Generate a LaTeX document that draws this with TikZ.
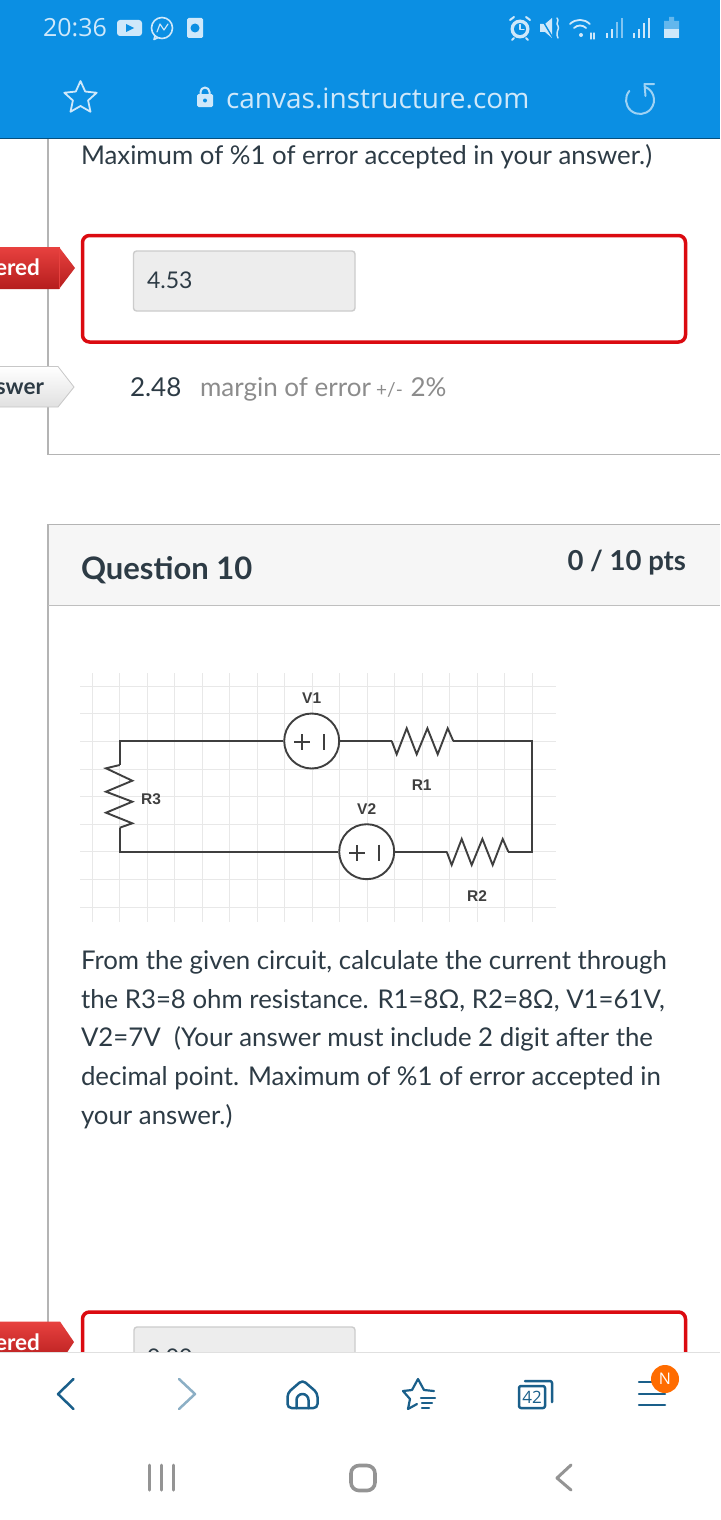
\documentclass[tikz,border=0pt]{standalone}
\usepackage{fontspec}
\setmainfont{Lato}
\newfontfamily\uifont{Open Sans}
\newfontfamily\cktfont{Liberation Sans}
\definecolor{barblue}{HTML}{0B8FE3}
\definecolor{barlight}{HTML}{CFE8FA}
\definecolor{ink}{HTML}{2D3B45}
\definecolor{rule}{HTML}{B4B4B4}
\definecolor{wrongred}{HTML}{DB0A10}
\definecolor{navblue}{HTML}{1A5F8A}
\definecolor{navgrey}{HTML}{949494}
\definecolor{wire}{HTML}{3F3F3F}
\definecolor{gridc}{HTML}{E8E8E8}
\definecolor{tagtop}{HTML}{E8413F}
\definecolor{tagbot}{HTML}{B51D1D}
\newcommand{\pxfont}[1]{\fontsize{#1}{#1}\selectfont}
\tikzset{
 txt/.style={inner sep=0pt,outer sep=0pt,text=ink},
 body/.style={txt,anchor=base west,font=\pxfont{25.8}},
 ckt/.style={txt,text=wire,font=\cktfont\bfseries\pxfont{15.5}},
 wirepath/.style={draw=wire,line width=1.9pt,line join=miter},
 source/.style={circle,draw=wire,line width=1.9pt,minimum size=55pt,inner sep=0pt,fill=white},
 symb/.style={draw=wire,line width=1.7pt},
 cardline/.style={draw=rule,line width=1.6pt},
 redbox/.style={draw=wrongred,line width=3.5pt,rounded corners=7pt},
 inputbox/.style={draw=black!20,fill=black!7,line width=1.4pt,rounded corners=3pt},
 navicon/.style={draw=navblue,line width=2.5pt,line join=round,line cap=round},
 sysicon/.style={draw=navgrey,line width=3pt,line join=round,line cap=round},
 baricon/.style={draw=barlight,line width=1.5pt,line join=round,line cap=round},
}
\begin{document}
\begin{tikzpicture}[x=1pt,y=-1pt]
\useasboundingbox (0,0) rectangle (720,1520);
\clip (0,0) rectangle (720,1520);
\fill[white] (0,0) rectangle (720,1520);
% ---------- upper card
\draw[cardline] (48,130) -- (48,454.5) -- (720,454.5);
\node[body] (maxa) at (81,164) {Maximum of \%1 of error accepted in your answer.)};
\draw[redbox] (82.5,235.5) rectangle (685.5,342);
\draw[inputbox] (133.5,251) rectangle (355,311);
\node[txt,anchor=base west,font=\pxfont{23}] (v453) at (147,288) {4.53};
\path[top color=tagtop,bottom color=tagbot] (-5,247) -- (59,247) -- (75,268) -- (59,289) -- (-5,289) -- cycle;
\draw[tagtop,line width=.6pt] (59,247) -- (59,289);
\node[txt,text=white,anchor=base east,font=\bfseries\pxfont{22.5}] (tag1) at (40,275) {ered};
\path[top color=white,bottom color=black!12,draw=black!22,line width=.8pt] (-5,366.5) -- (58,366.5) -- (74,387) -- (58,407) -- (-5,407) -- cycle;
\node[txt,anchor=base east,font=\bfseries\pxfont{22.5}] (tag2) at (44,394) {swer};
\node[txt,anchor=base west,font=\pxfont{26}] (v248) at (130,396) {2.48};
\node[txt,text=black!45,anchor=base west,font=\pxfont{26}] (moe) at (200,396) {margin of error};
\node[txt,text=black!45,anchor=base,font=\pxfont{19}] (pm) at (389.5,396) {+/-};
\node[txt,text=black!45,anchor=base west,font=\pxfont{26}] (pct) at (410.5,396) {2\%};
% ---------- question card
\path[fill=black!3.5] (48,524.5) rectangle (720,605.5);
\draw[cardline] (720,524.5) -- (48,524.5) -- (48,1360);
\draw[draw=black!25,line width=1pt] (48,605.5) -- (720,605.5);
\node[txt,anchor=base west,font=\bfseries\pxfont{31}] (q10) at (81,579) {Question 10};
\node[txt,anchor=base east,font=\bfseries\pxfont{27.5}] (pts) at (686,570) {0 / 10 pts};
% ---------- circuit grid
\foreach \i in {0,...,16} \draw[gridc,line width=.9pt] ({92+27.5*\i},673) -- ({92+27.5*\i},922);
\foreach \j in {0,...,8} \draw[gridc,line width=.9pt] (80,{686+27.65*\j}) -- (556,{686+27.65*\j});
% ---------- circuit
\coordinate (tl) at (119.7,741);
\coordinate (tr) at (532,741);
\coordinate (bl) at (119.7,851.7);
\coordinate (br) at (532,851.7);
\node[source] (V1) at (311.7,741) {};
\node[source] (V2) at (366.7,851.7) {};
\coordinate (R1a) at (391.7,741);
\coordinate (R1b) at (453.3,741);
\coordinate (R2a) at (446.7,851.7);
\coordinate (R2b) at (508.3,851.7);
\coordinate (R3a) at (119.7,765);
\coordinate (R3b) at (119.7,827.7);
\draw[wirepath] (R3a) -- (tl) -- (V1.west);
\draw[wirepath] (V1.east) -- (R1a);
\draw[wirepath] (R1b) -- (tr) -- (br) -- (R2b);
\draw[wirepath] (R2a) -- (V2.east);
\draw[wirepath] (V2.west) -- (bl) -- (R3b);
\draw[wirepath] (R1a) -- ++(5,13.3) -- ++(10,-26) -- ++(10,26) -- ++(10.7,-26) -- ++(10.3,26) -- ++(10,-26) -- (R1b);
\draw[wirepath] (R2a) -- ++(5,13.3) -- ++(10,-26) -- ++(10,26) -- ++(10.7,-26) -- ++(10.3,26) -- ++(10,-26) -- (R2b);
\draw[wirepath] (R3a) -- (106,768.3) -- (132.3,780.7) -- (106,791.7) -- (132.3,801.7) -- (106,812.7) -- (132.3,823.3) -- (R3b);
\draw[symb] (294.3,742.3) -- (310.3,742.3) (302.3,734.3) -- (302.3,750.3) (324.3,734) -- (324.3,750);
\draw[symb] (349.3,853) -- (365.3,853) (357.3,845) -- (357.3,861) (379.3,844.7) -- (379.3,860.7);
\node[ckt] (lv1) at (311.7,698) {V1};
\node[ckt] (lr1) at (421.7,785.5) {R1};
\node[ckt] (lv2) at (366.7,809) {V2};
\node[ckt] (lr2) at (477,896) {R2};
\node[ckt] (lr3) at (151,799) {R3};
% ---------- paragraph
\node[body] (p1) at (81,969) {From the given circuit, calculate the current through};
\node[body] (p2) at (81,1008) {the R3=8 ohm resistance. R1=8Ω, R2=8Ω, V1=61V,};
\node[body] (p3) at (81,1046) {V2=7V\ \ (Your answer must include 2 digit after the};
\node[body] (p4) at (81,1085) {decimal point. Maximum of \%1 of error accepted in};
\node[body] (p5) at (81,1124) {your answer.)};
% ---------- lower answer
\draw[redbox] (82.5,1312) -- (685.5,1312) -- (685.5,1400) -- (82.5,1400) -- cycle;
\draw[inputbox] (134,1327) rectangle (355,1380);
\node[txt,anchor=base west,font=\pxfont{23}] (v000) at (147,1365) {0.00};
\path[top color=tagtop,bottom color=tagbot] (-5,1321.5) -- (60,1321.5) -- (74,1342) -- (60,1363) -- (-5,1363) -- cycle;
\node[txt,text=white,anchor=base east,font=\bfseries\pxfont{22.5}] (tag3) at (40,1350) {ered};
% ---------- bottom bars
\fill[white] (0,1352) rectangle (720,1520);
\draw[black!12,line width=1pt] (0,1352.5) -- (720,1352.5);
\draw[navicon] (73.5,1379) -- (58,1394) -- (73.5,1409);
\draw[navicon,draw=navblue!50] (179,1379) -- (195,1394) -- (179,1409);
\draw[navicon,rounded corners=4pt] (302.5,1380) -- (317.5,1393) -- (317.5,1408) -- (287.5,1408) -- (287.5,1393) -- cycle;
\draw[navicon] (296.5,1408) -- (296.5,1400) arc (180:360:6) -- (308.5,1408);
\draw[navicon,line width=2.2pt] (434,1391) -- (424,1390) -- (418,1379) -- (412,1390) -- (403,1391) -- (410,1399) -- (408,1409) -- (417,1404);
\draw[navicon,line width=2.2pt] (421,1398) -- (435,1398) (422,1403) -- (432,1403) (422,1408) -- (429,1408);
\draw[navicon,rounded corners=2pt] (519,1386) rectangle (545,1408);
\draw[navicon,rounded corners=2pt] (525,1381) -- (552,1381) -- (552,1402);
\node[txt,text=navblue,font=\uifont\pxfont{17}] (tabs) at (532,1397.5) {42};
\draw[navicon] (639,1382) -- (665,1382) (639,1394) -- (665,1394) (639,1405) -- (665,1405);
\fill[orange!85!red] (665,1379) circle (14);
\node[txt,text=white,font=\uifont\pxfont{16}] (badge) at (665,1379) {N};
\draw[sysicon] (149,1465) -- (149,1490) (161.6,1465) -- (161.6,1490) (173.6,1465) -- (173.6,1490);
\draw[sysicon,line width=3.6pt,rounded corners=8pt] (351,1465.5) rectangle (375,1490.5);
\draw[sysicon] (571,1465) -- (557,1478) -- (571,1490);
% ---------- top bar
\fill[barblue] (0,0) rectangle (720,138);
\draw[black!45!barblue,line width=.8pt] (0,138.5) -- (720,138.5);
\node[txt,text=barlight,font=\uifont\pxfont{25},anchor=west] (clock) at (43,28) {20:36};
\fill[barlight,rounded corners=3pt] (117,20) rectangle (142,36);
\fill[barblue] (126,24) -- (134,28) -- (126,32) -- cycle;
\draw[baricon,line width=1.6pt] (162,28) circle (10.5);
\draw[baricon,line width=1.6pt] (155,36) -- (154,39.5) -- (158,37.5);
\draw[baricon,line width=1.2pt] (157,32) -- (160,24) -- (164,30) -- (168,24);
\fill[barlight,rounded corners=1.5pt] (187,18) rectangle (203,38);
\fill[barblue] (195,28) circle (4.5);
\fill[barlight] (520,29) circle (9.5);
\fill[barblue] (520,29) circle (6);
\draw[baricon,line width=1.4pt] (520,24.5) -- (520,29.5) -- (524,29.5);
\draw[baricon,line width=2pt] (510,20) -- (514,17) (530,20) -- (526,17) (514,38) -- (512,40) (526,38) -- (528,40);
\fill[barlight] (540,24) -- (545,24) -- (552,18) -- (552,38) -- (545,32) -- (540,32) -- cycle;
\draw[barblue,line width=1.4pt] (541,18) -- (553,38);
\draw[baricon] (557,18) .. controls (560,21) and (555,23) .. (558,26) .. controls (560,29) and (555,31) .. (558,38);
\draw[baricon,line width=1.8pt] (570,24) arc (225:315:14);
\draw[baricon,line width=1.8pt] (574,28) arc (225:315:8.5);
\fill[barlight] (581,35) circle (2);
\draw[baricon,line width=1.2pt] (591,33) -- (591,39) (594,39) -- (594,33);
\draw[barlight,line width=2pt] (607,38) -- (607,33) (612,38) -- (612,29);
\draw[barlight!60!barblue,line width=2pt] (617,38) -- (617,22) (622,38) -- (622,18);
\draw[barlight,line width=2pt] (634,38) -- (634,33) (639,38) -- (639,29) (644,38) -- (644,23) (649,38) -- (649,18);
\fill[barlight!45!barblue] (664,21) rectangle (679,38) (669,17) rectangle (674,21);
\fill[barlight] (664,29) rectangle (679,38);
\begin{scope}[shift={(80.5,98)}]
\draw[baricon,line width=1.8pt] (270:17) -- (306:8) -- (342:17) -- (18:8) -- (54:17) -- (90:8) -- (126:17) -- (162:8) -- (198:17) -- (234:8) -- cycle;
\end{scope}
\fill[barlight,rounded corners=1.5pt] (197,94) rectangle (213,107);
\draw[baricon,line width=2pt] (200.5,94) -- (200.5,92) arc (180:360:4.5) -- (209.5,94);
\fill[barblue] (205,100.5) circle (2);
\node[txt,text=barlight,font=\uifont\pxfont{28},anchor=west] (url) at (226,98) {canvas.instructure.com};
\draw[baricon,line width=2pt,draw=barlight!75!barblue] (629.3,91) arc (220:-70:14);
\draw[baricon,line width=2pt,draw=barlight!75!barblue] (654,84) -- (644.5,84) -- (645.5,96);
\end{tikzpicture}
\end{document}
